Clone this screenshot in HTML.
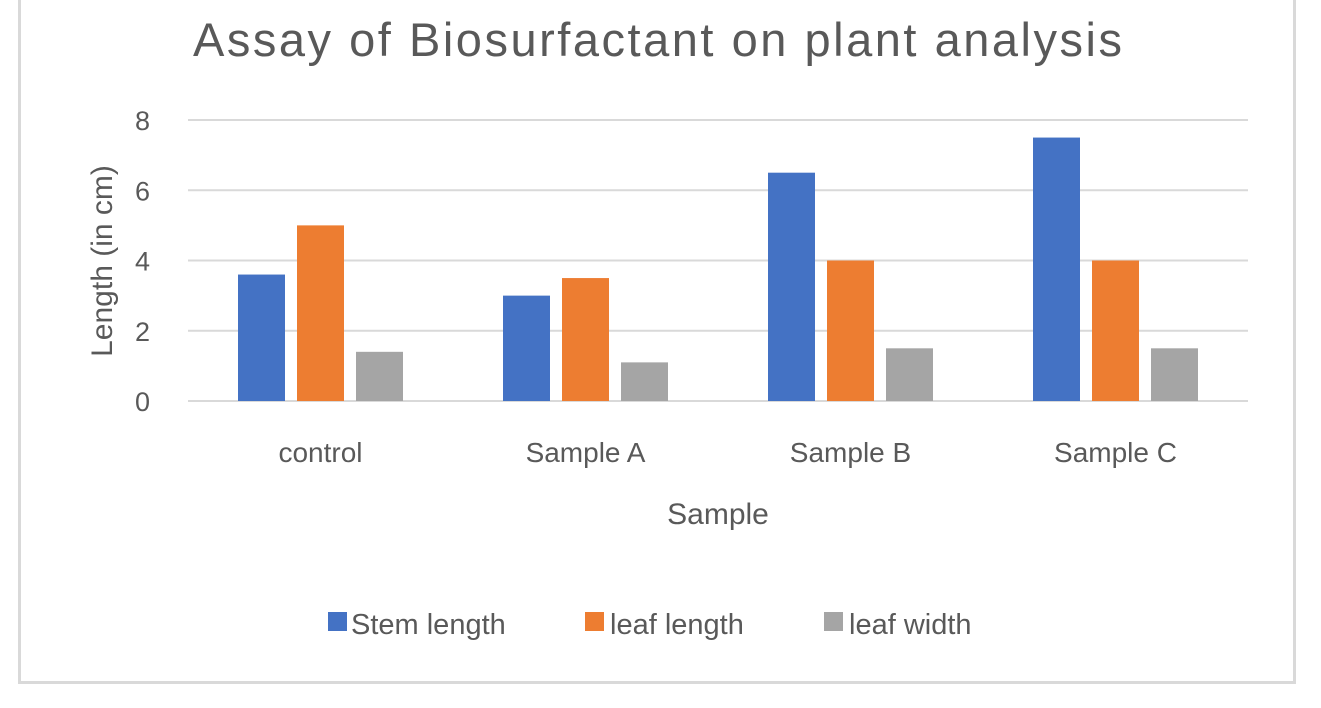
<!DOCTYPE html>
<html><head><meta charset="utf-8"><style>
html,body{margin:0;padding:0;background:#fff;}
svg{display:block;font-family:"Liberation Sans",sans-serif;}
</style></head><body>
<svg id="chart" width="1321" height="708">
<path d="M19.5 0 V682.5 H1294.5 V0" fill="none" stroke="#d9d9d9" stroke-width="3"/>
<text x="193" y="56" font-size="47" fill="#595959" textLength="929">Assay of Biosurfactant on plant analysis</text>
<g id="grid"></g><g id="bars"></g><g id="labels"></g>
<text transform="translate(112,261) rotate(-90)" text-anchor="middle" font-size="30" fill="#595959">Length (in cm)</text>
<text x="718" y="524" text-anchor="middle" font-size="30" fill="#595959">Sample</text>
<g>
<rect x="328" y="612" width="19" height="19" fill="#4472c4"/>
<text x="351" y="634" font-size="29" fill="#595959">Stem length</text>
<rect x="585" y="612" width="19" height="19" fill="#ed7d31"/>
<text x="610" y="634" font-size="29" fill="#595959">leaf length</text>
<rect x="824" y="612" width="19" height="19" fill="#a5a5a5"/>
<text x="849" y="634" font-size="29" fill="#595959">leaf width</text>
</g>
</svg>
<script>
const categories=["control","Sample A","Sample B","Sample C"];
const stemLength=[3.6,3.0,6.5,7.5];
const leafLength=[5.0,3.5,4.0,4.0];
const leafWidth=[1.4,1.1,1.5,1.5];
const yTicks=[0,2,4,6,8];
const NS="http://www.w3.org/2000/svg";
const x0=188,x1=1248,yBase=401,yTop=120,yMax=8;
const y=v=>yBase-(yBase-yTop)*v/yMax;
const bw=(x1-x0)/categories.length;
const series=[{d:stemLength,c:"#4472c4",n:"stem-length"},{d:leafLength,c:"#ed7d31",n:"leaf-length"},{d:leafWidth,c:"#a5a5a5",n:"leaf-width"}];
const grid=document.getElementById("grid"),bars=document.getElementById("bars"),labels=document.getElementById("labels");
function mk(t,a){const e=document.createElementNS(NS,t);for(const k in a)e.setAttribute(k,a[k]);return e;}
yTicks.forEach(t=>{
 const l=mk("line",{x1:x0,x2:x1,y1:y(t),y2:y(t),stroke:"#d9d9d9","stroke-width":2});
 
 
 grid.appendChild(l);
 const tx=mk("text",{x:150,y:y(t)+10,"text-anchor":"end","font-size":27,fill:"#595959"});
 tx.textContent=t;
 
 
 labels.appendChild(tx);
});
const barW=47,gap=12;
categories.forEach((c,i)=>{
 const cx=x0+bw*(i+0.5);
 series.forEach((s,j)=>{
  const bx=cx+(j-1)*(barW+gap)-barW/2;
  const r=mk("rect",{x:bx,y:y(s.d[i]),width:barW,height:yBase-y(s.d[i]),fill:s.c});
  
  
  bars.appendChild(r);
 });
 const tx=mk("text",{x:cx,y:462,"text-anchor":"middle","font-size":28,fill:"#595959"});
 tx.textContent=c;
 
 
 labels.appendChild(tx);
});
</script>
</body></html>
